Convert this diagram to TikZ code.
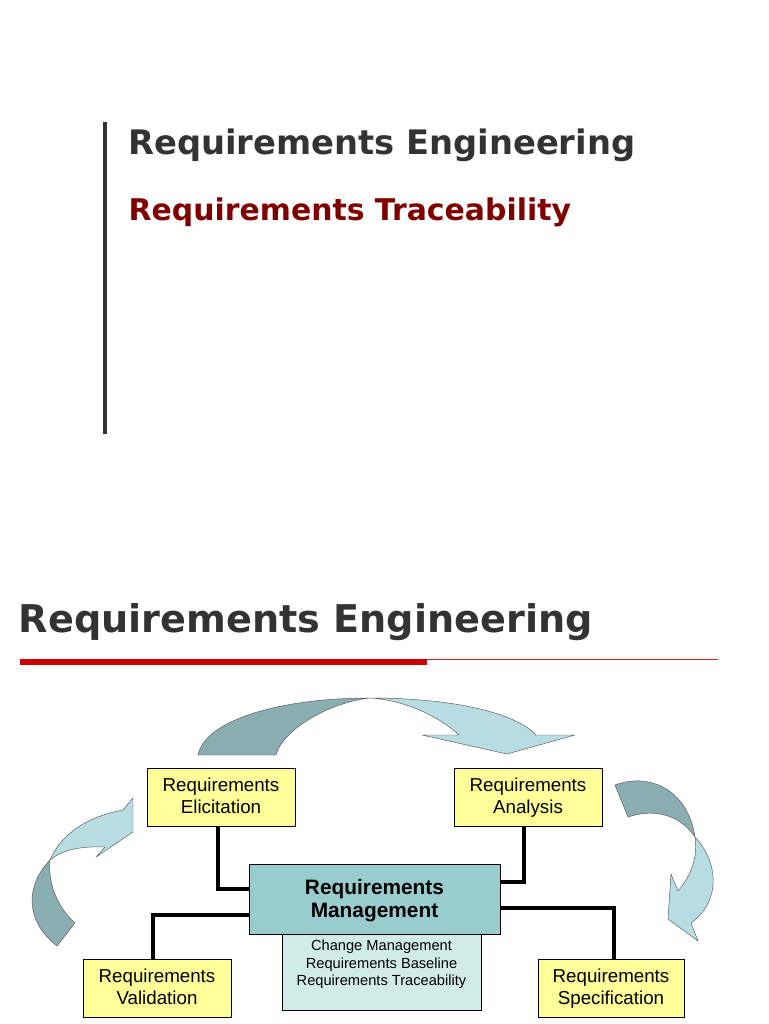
\documentclass[tikz,border=0pt]{standalone}
\usepackage{fontspec}
\setmainfont{Liberation Sans}
\newfontfamily\headfont{DejaVu Sans}
\usepackage{tikz}
\usetikzlibrary{calc,positioning}
\definecolor{headgray}{RGB}{51,51,51}
\definecolor{headred}{RGB}{128,0,0}
\definecolor{barred}{RGB}{204,0,0}
\definecolor{boxyellow}{RGB}{255,255,153}
\definecolor{mgmtteal}{RGB}{153,204,204}
\definecolor{listcyan}{RGB}{209,235,235}
\definecolor{arrowdark}{RGB}{138,174,178}
\definecolor{arrowlight}{RGB}{183,221,227}
\newcommand\lnstrut{\rule[-4.6pt]{0pt}{18.8pt}}

\begin{document}
\begin{tikzpicture}[x=0.3mm,y=-0.3mm,
  stepbox/.style={draw=black,fill=boxyellow,line width=0.6pt,minimum width=44.4mm,minimum height=17.4mm,inner sep=0pt,align=center,font=\fontsize{16pt}{18.8pt}\selectfont},
  link/.style={line width=2.6pt},
  bandback/.style={fill=arrowdark,draw=black!65,line width=0.4pt,line join=round},
  bandfront/.style={fill=arrowlight,draw=black!65,line width=0.4pt,line join=round}]
\useasboundingbox (0,0) rectangle (768,1024);
% ---------- title slide ----------
\fill[headgray] (103,122) rectangle (107,434);
\node[anchor=base west,inner sep=0pt,headgray,font=\headfont\bfseries\fontsize{28.8pt}{34pt}\selectfont] (cover) at (128,154) {Requirements Engineering};
\node[anchor=base west,inner sep=0pt,headred,font=\headfont\bfseries\fontsize{25.5pt}{30pt}\selectfont] (topic) at (128.5,220) {Requirements Traceability};
% ---------- second slide ----------
\node[anchor=base west,inner sep=0pt,headgray,font=\headfont\bfseries\fontsize{32.6pt}{38pt}\selectfont] (heading) at (18.6,632) {Requirements Engineering};
\fill[barred] (20,659) rectangle (427,665);
\draw[barred!85,line width=0.3mm] (427,659.5) -- (718,659.5);
% curved arrows
\fill[bandback] (198,755) .. controls (205,720) and (280,698) .. (370,698)
   .. controls (330,702) and (282,730) .. (276,755) -- cycle;
\fill[bandfront] (370,698) .. controls (450,698) and (515,712) .. (536,735)
   -- (575,735) -- (507,754) -- (422,735) -- (459,735)
   .. controls (440,717) and (405,700) .. (370,698) -- cycle;
\fill[bandback] (50,860) .. controls (26,885) and (24,920) .. (57,946) -- (75,923)
   .. controls (55,905) and (48,880) .. (50,860) -- cycle;
\fill[bandfront] (50,860) .. controls (62,832) and (90,816) .. (123,810)
   -- (133,798) -- (133,832) -- (96,857) -- (105,847)
   .. controls (80,846) and (62,850) .. (50,860) -- cycle;
\fill[bandback] (615,785) .. controls (650,772) and (688,790) .. (695,837)
   .. controls (680,815) and (655,808) .. (628,817) -- cycle;
\fill[bandfront] (695,837) .. controls (718,862) and (722,900) .. (691,923)
   -- (698,941) -- (668,919) -- (671,874) -- (678,891)
   .. controls (692,875) and (698,855) .. (695,837) -- cycle;
% boxes
\node[stepbox] (elic) at (221,797) {Requirements\lnstrut\\Elicitation\lnstrut};
\node[stepbox] (anal) at (528,797) {Requirements\lnstrut\\Analysis\lnstrut};
\node[stepbox] (valid) at (157,988) {Requirements\lnstrut\\Validation\lnstrut};
\node[stepbox,minimum width=43.8mm] (spec) at (611,988) {Requirements\lnstrut\\Specification\lnstrut};
\node[draw=black,fill=listcyan,line width=0.6pt,minimum width=59.7mm,minimum height=22.8mm,inner sep=0pt,font=\fontsize{12.5pt}{15pt}\selectfont] (mgmtlist) at (381.5,972)
  {\raisebox{1.2mm}[0pt][0pt]{\begin{tabular}{@{}c@{}}Change Management\\Requirements Baseline\\Requirements Traceability\end{tabular}}};
\node[draw=black,fill=mgmtteal,line width=0.6pt,minimum width=75.3mm,minimum height=21mm,inner sep=0pt,align=center,font=\bfseries\fontsize{17.8pt}{19.6pt}\selectfont] (mgmt) at (374.5,899) {\raisebox{-0.6mm}{Requirements}\strut\\\raisebox{-0.6mm}{Management}\strut};
% connectors
\draw[link] ($(elic.south)+(-3,0)$) |- ($(mgmt.west)+(0,-10)$);
\draw[link] ($(mgmt.west)+(0,16)$) -| ($(valid.north)+(-4,0)$);
\draw[link] ($(anal.south)+(-4,0)$) |- ($(mgmt.east)+(0,-17)$);
\draw[link] ($(mgmt.east)+(0,9)$) -| ($(spec.north)+(3,0)$);
\end{tikzpicture}
\end{document}
